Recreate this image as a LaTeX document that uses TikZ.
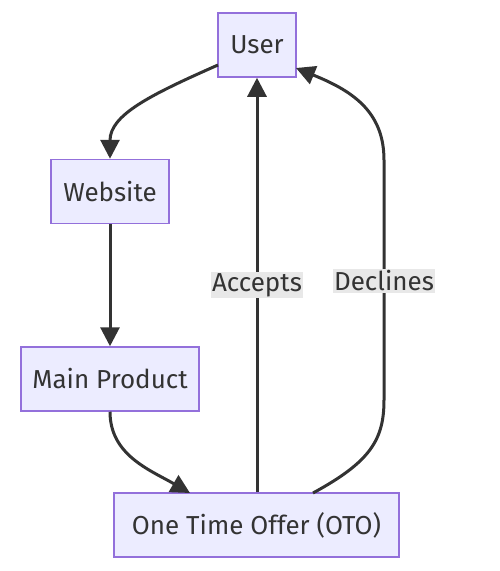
\documentclass[tikz,border=0pt]{standalone}
\usepackage{fontspec}
\setmainfont{Fira Sans}
\usepackage{xcolor}
\usetikzlibrary{arrows.meta, calc}
\definecolor{boxfill}{HTML}{ECECFF}
\definecolor{boxline}{HTML}{9370DB}
\definecolor{edgeline}{HTML}{333333}
\definecolor{labelbg}{HTML}{E8E8E8}
\tikzset{
  box/.style={draw=boxline, fill=boxfill, line width=1.5pt, text=edgeline,
    minimum height=64pt, inner sep=0pt, font=\fontsize{26}{30}\selectfont},
  edge/.style={draw=edgeline, line width=3pt,
    -{Triangle[length=19pt, width=19pt]}},
  edgelabel/.style={fill=labelbg, text=edgeline, inner sep=1.5pt,
    font=\fontsize{26}{30}\selectfont}
}
\begin{document}
\begin{tikzpicture}[x=1pt, y=-1pt]
\useasboundingbox (0,0) rectangle (500,571);

% Nodes
\node[box, minimum width=78pt] (user) at (257, 45) {User};
\node[box, minimum width=118pt] (website) at (110, 191.5) {Website};
\node[box, minimum width=178pt] (mainprod) at (110, 379) {Main Product};
\node[box, minimum width=285pt] (oto) at (256.5, 525) {One Time Offer (OTO)};

% Edges
\draw[edge] (218, 65) .. controls (150, 95) and (110, 115) .. (website.north);
\draw[edge] (website.south) -- (mainprod.north);
\draw[edge] (mainprod.south) .. controls (110, 455) and (150, 470) .. (190, 493);
\draw[edge] (oto.north -| user.south) -- (user.south) node[edgelabel, pos=0.5] (accepts) {Accepts};
\draw[edge] (313, 493) .. controls (370, 462) and (384, 440) .. (384, 400)
  -- (384, 160) .. controls (384, 110) and (350, 90) .. (296, 68);
\node[edgelabel] (declines) at (384, 281) {Declines};

\end{tikzpicture}
\end{document}
